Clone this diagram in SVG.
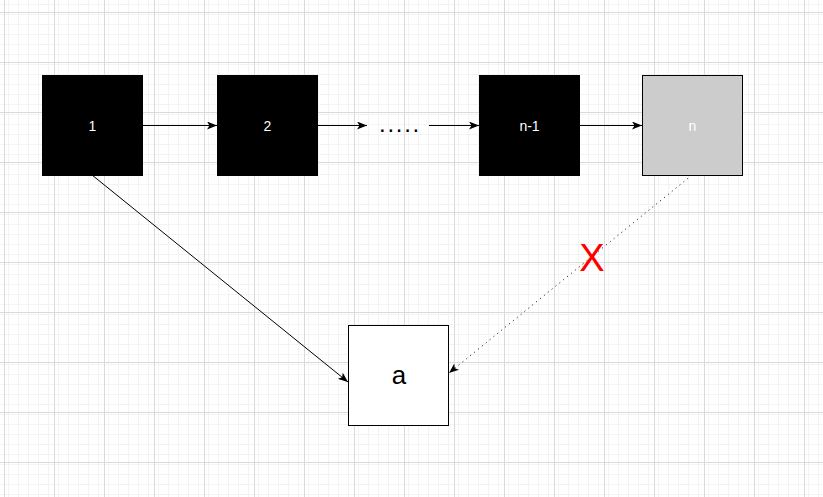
<svg xmlns="http://www.w3.org/2000/svg" width="823" height="497" viewBox="0 0 823 497">
  <defs>
    <pattern id="minor" x="4" y="12" width="10" height="10" patternUnits="userSpaceOnUse">
      <path d="M0,0.5 H10 M0.5,0 V10" fill="none" stroke="#f3f3f3" stroke-width="1"/>
    </pattern>
    <pattern id="major" x="4" y="12" width="50" height="50" patternUnits="userSpaceOnUse">
      <rect width="50" height="50" fill="url(#minor)"/>
      <path d="M0,0.5 H50 M0.5,0 V50" fill="none" stroke="#dadada" stroke-width="1"/>
    </pattern>
    <marker id="arrow" viewBox="0 0 10 8" refX="10" refY="4" markerWidth="10" markerHeight="8" markerUnits="userSpaceOnUse" orient="auto">
      <path d="M0,0 L10,4 L0,8 L2.5,4 z" fill="#000"/>
    </marker>
  </defs>
  <style>
    .box { stroke: #000; stroke-width: 1; }
    .dark { fill: #000; }
    .lbl { font-family: "Liberation Sans", Arial, sans-serif; text-anchor: middle; }
    .white { fill: #fff; font-size: 14px; }
    .edge { fill: none; stroke: #000; stroke-width: 1; }
  </style>
  <rect width="823" height="497" fill="#fff"/>
  <rect width="823" height="497" fill="url(#major)"/>

  <g id="connectors">
    <path class="edge" d="M142,125.5 H217" marker-end="url(#arrow)"/>
    <path class="edge" d="M317,125.5 H367" marker-end="url(#arrow)"/>
    <path class="edge" d="M429,125.5 H479" marker-end="url(#arrow)"/>
    <path class="edge" d="M579,125.5 H642" marker-end="url(#arrow)"/>
    <path class="edge" d="M92,175 L348,382" marker-end="url(#arrow)"/>
    <path class="edge" d="M692,175 L449,373" stroke-dasharray="1 4" marker-end="url(#arrow)"/>
  </g>

  <g id="node-1">
    <rect class="box dark" x="42.5" y="75.5" width="100" height="100"/>
    <text class="lbl white" x="92.5" y="131">1</text>
  </g>
  <g id="node-2">
    <rect class="box dark" x="217.5" y="75.5" width="100" height="100"/>
    <text class="lbl white" x="267.5" y="131">2</text>
  </g>
  <g id="node-dots">
    <text class="lbl" x="400" y="132" font-size="24" letter-spacing="1.7" fill="#000">.....</text>
  </g>
  <g id="node-n-1">
    <rect class="box dark" x="479.5" y="75.5" width="100" height="100"/>
    <text class="lbl white" x="529.5" y="131">n-1</text>
  </g>
  <g id="node-n">
    <rect class="box" x="642.5" y="75.5" width="100" height="100" fill="#cccccc" stroke="#333"/>
    <text class="lbl white" x="692.5" y="131">n</text>
  </g>
  <g id="node-a">
    <rect class="box" x="348.5" y="325.5" width="100" height="100" fill="#fff" stroke="#333"/>
    <text class="lbl" x="399" y="384" font-size="26" fill="#000">a</text>
  </g>
  <g id="label-x">
    <text class="lbl" x="592" y="271" font-size="38" fill="#ff0000">X</text>
  </g>
</svg>
